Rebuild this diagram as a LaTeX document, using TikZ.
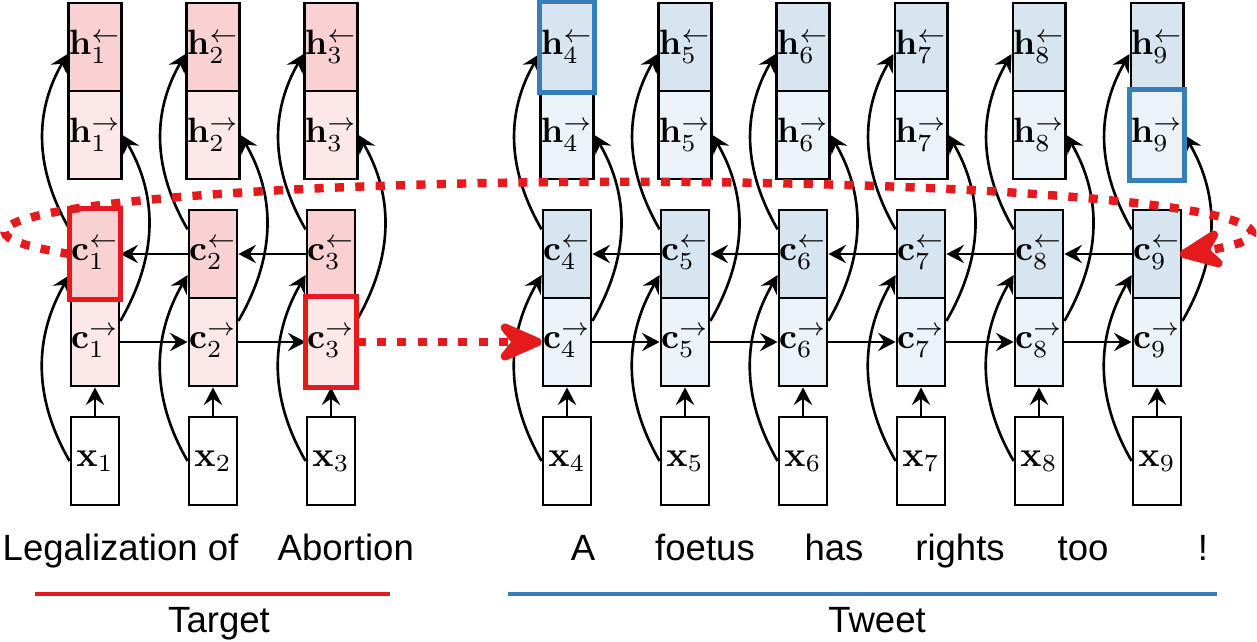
\documentclass[tikz,border=0pt]{standalone}
\usepackage{amsmath}
\usepackage{amssymb}
\usepackage[no-math]{fontspec}
\setmainfont{Liberation Sans}
\usetikzlibrary{arrows.meta}
\definecolor{tred}{RGB}{228,26,28}
\definecolor{tblue}{RGB}{55,126,184}

\begin{document}
\begin{tikzpicture}[x=1cm,y=1cm,
  >={Stealth[length=5pt,width=5.2pt,inset=1.8pt]},
  cell/.style={draw,thick,minimum width=0.48cm,minimum height=0.88cm,inner sep=0pt},
  link/.style={->,line width=0.75pt},
  hlred/.style={draw=tred,line width=1.4pt},
  hlblue/.style={draw=tblue,line width=1.4pt},
  attn/.style={tred,line width=2.4pt,dash pattern=on 2.6pt off 3.2pt,
    -{Stealth[length=16pt,width=14pt,inset=5.5pt,round]}},
  word/.style={anchor=base,inner sep=0pt,font=\fontsize{10.4}{12}\selectfont}]
\useasboundingbox (0,0) rectangle (12.57,6.41);

% LSTM columns
\foreach \i/\px/\col in {1/0.95/tred,2/2.13/tred,3/3.31/tred,4/5.67/tblue,5/6.85/tblue,
    6/8.03/tblue,7/9.21/tblue,8/10.39/tblue,9/11.57/tblue} {
  \node[cell,fill=\col!20] (hb\i) at (\px,5.94) {$\mathbf{h}_{\i}^{\leftarrow}$};
  \node[cell,fill=\col!10] (hf\i) at (\px,5.06) {$\mathbf{h}_{\i}^{\rightarrow}$};
  \node[cell,fill=\col!20] (cb\i) at (\px,3.87) {$\mathbf{c}_{\i}^{\leftarrow}$};
  \node[cell,fill=\col!10] (cf\i) at (\px,2.99) {$\mathbf{c}_{\i}^{\rightarrow}$};
  \node[cell] (x\i) at (\px,1.80) {$\mathbf{x}_{\i}$};
  \draw[link] (x\i) -- (cf\i);
  \draw[link] (x\i.west) to[out=120,in=240] ([yshift=-6pt]cb\i.west);
  \draw[link] ([yshift=7pt]cb\i.west) to[out=120,in=240] ([yshift=-2pt]hb\i.west);
  \draw[link] ([yshift=6pt]cf\i.east) to[out=60,in=300] (hf\i.east);
}

% recurrent links
\foreach \a/\b in {1/2,2/3,4/5,5/6,6/7,7/8,8/9} {
  \draw[link] (cf\a) -- (cf\b);
  \draw[link] (cb\b) -- (cb\a);
}

% highlighted cells
\draw[hlred] (cb1.south west) rectangle (cb1.north east);
\draw[hlred] (cf3.south west) rectangle (cf3.north east);
\draw[hlblue] (hb4.south west) rectangle (hb4.north east);
\draw[hlblue] (hf9.south west) rectangle (hf9.north east);

% conditioning
\draw[attn] (cf3.east) -- (cf4.west);
\draw[attn] (cb1.west) arc[start angle=206.4,end angle=-27.2,x radius=6.22,y radius=0.5];

% words
\node[word,anchor=base west] (w1) at (0.02,0.81) {Legalization of};
\node[word,anchor=base west] (w3) at (2.77,0.81) {Abortion};
\node[word] (w4) at (5.83,0.81) {A};
\node[word] (w5) at (7.05,0.81) {foetus};
\node[word] (w6) at (8.34,0.81) {has};
\node[word] (w7) at (9.60,0.81) {rights};
\node[word] (w8) at (10.83,0.81) {too};
\node[word] (w9) at (12.03,0.81) {!};

\draw[tred,line width=1.4pt] (0.35,0.47) -- (3.90,0.47);
\draw[tblue,line width=1.4pt] (5.08,0.47) -- (12.17,0.47);
\node[word] (tgt) at (2.19,0.09) {Target};
\node[word] (twt) at (8.77,0.09) {Tweet};
\end{tikzpicture}
\end{document}
